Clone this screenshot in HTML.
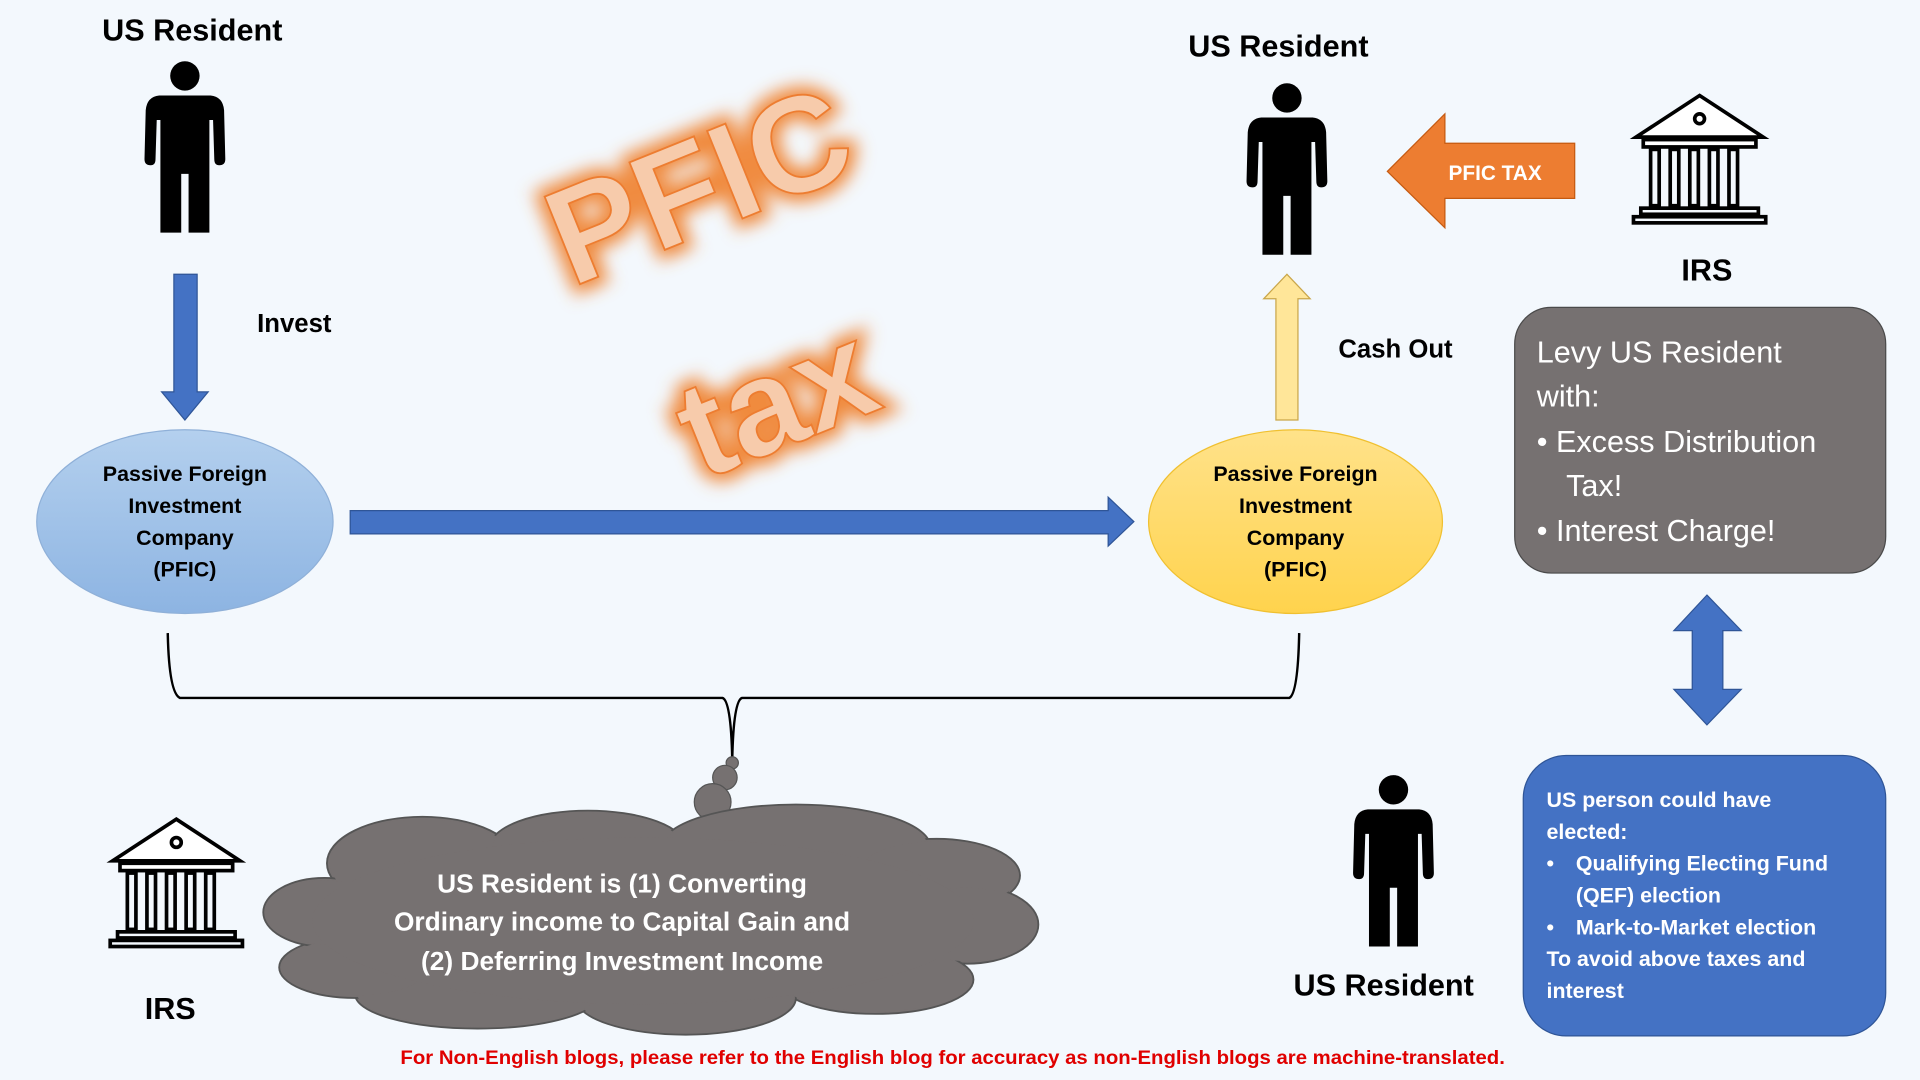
<!DOCTYPE html>
<html><head><meta charset="utf-8"><style>
html,body{margin:0;padding:0;background:#f3f8fd;}
svg{display:block;}
text{font-family:"Liberation Sans",sans-serif;}
</style></head><body>
<svg width="1920" height="1080" viewBox="0 0 1568 882" xmlns="http://www.w3.org/2000/svg">
<defs>
<linearGradient id="gb" x1="0" y1="0" x2="0" y2="1"><stop offset="0" stop-color="#b4d0ee"/><stop offset="1" stop-color="#8db4e2"/></linearGradient>
<linearGradient id="gy" x1="0" y1="0" x2="0" y2="1"><stop offset="0" stop-color="#ffe28a"/><stop offset="1" stop-color="#ffd34d"/></linearGradient>
<filter id="glow" x="-30%" y="-30%" width="160%" height="160%"><feGaussianBlur stdDeviation="7"/></filter>
<g id="person">
<circle cx="33" cy="12" r="12"/>
<path d="M12,28 H54 Q64,29 65,40 L66,80 Q66,85 61,85 Q57,85 57,80 L56,48 L53,48 L53,140 L36,140 L36,92 L30,92 L30,140 L13,140 L13,48 L10,48 L9,80 Q9,85 5,85 Q0,85 0,80 L1,40 Q2,29 12,28Z"/>
</g>
<g id="bank" fill="none" stroke="#000" stroke-width="3">
<path d="M56,2 L108,36 L4,36Z" fill="#fff"/>
<circle cx="56" cy="21" r="4"/>
<rect x="10" y="38" width="92" height="6" fill="#fff"/>
<rect x="16" y="46" width="7" height="46"/><rect x="32" y="46" width="7" height="46"/><rect x="48" y="46" width="7" height="46"/><rect x="64" y="46" width="7" height="46"/><rect x="80" y="46" width="7" height="46"/>
<rect x="8" y="94" width="96" height="5"/><rect x="2" y="101" width="108" height="5"/>
</g>
</defs>
<rect width="1568" height="882" fill="#f3f8fd"/>

<g transform="rotate(-22 570 150)">
<text x="570" y="190" font-size="112" font-weight="bold" text-anchor="middle" fill="#f4a46a" stroke="#f08a3e" stroke-width="14" filter="url(#glow)">PFIC</text>
<text x="570" y="190" font-size="112" font-weight="bold" text-anchor="middle" fill="#f7cbab" stroke="#ed7d31" stroke-width="1.5">PFIC</text>
</g>
<g transform="rotate(-22 635 330)">
<text x="635" y="365" font-size="112" font-weight="bold" text-anchor="middle" fill="#f4a46a" stroke="#f08a3e" stroke-width="14" filter="url(#glow)">tax</text>
<text x="635" y="365" font-size="112" font-weight="bold" text-anchor="middle" fill="#f7cbab" stroke="#ed7d31" stroke-width="1.5">tax</text>
</g>

<text x="157" y="33" font-size="25" font-weight="bold" text-anchor="middle">US Resident</text>
<use href="#person" x="118" y="50"/>
<path d="M142,224 H161 V320 H170 L151,343 L132,320 H142Z" fill="#4472c4" stroke="#2f5597" stroke-width="1"/>
<text x="210" y="271" font-size="21" font-weight="bold">Invest</text>
<ellipse cx="151" cy="426" rx="121" ry="75" fill="url(#gb)" stroke="#8fb0d8"/>
<g font-size="17.5" font-weight="bold" text-anchor="middle">
<text x="151" y="393">Passive Foreign</text><text x="151" y="419">Investment</text><text x="151" y="445">Company</text><text x="151" y="471">(PFIC)</text>
</g>
<path d="M286,417 H905 V406 L926,426 L905,446 V436 H286Z" fill="#4472c4" stroke="#2f5597" stroke-width="1"/>

<ellipse cx="1058" cy="426" rx="120" ry="75" fill="url(#gy)" stroke="#f0c030"/>
<g font-size="17.5" font-weight="bold" text-anchor="middle">
<text x="1058" y="393">Passive Foreign</text><text x="1058" y="419">Investment</text><text x="1058" y="445">Company</text><text x="1058" y="471">(PFIC)</text>
</g>
<path d="M1042,343 V244 H1032 L1051,224 L1070,244 H1060 V343Z" fill="#ffe699" stroke="#c9a64a" stroke-width="1"/>
<text x="1093" y="292" font-size="21" font-weight="bold">Cash Out</text>
<text x="1044" y="46" font-size="25" font-weight="bold" text-anchor="middle">US Resident</text>
<use href="#person" x="1018" y="68"/>
<path d="M1286,117 H1180 V93 L1133,140 L1180,186 V162 H1286Z" fill="#ed7d31" stroke="#c55a11" stroke-width="1"/>
<text x="1221" y="147" font-size="17" font-weight="bold" fill="#fff" text-anchor="middle">PFIC TAX</text>
<use href="#bank" x="1332" y="76"/>
<text x="1394" y="229" font-size="25" font-weight="bold" text-anchor="middle">IRS</text>

<rect x="1237" y="251" width="303" height="217" rx="30" fill="#767171" stroke="#4a4a4a"/>
<g font-size="25" fill="#fff">
<text x="1255" y="296">Levy US Resident</text>
<text x="1255" y="332">with:</text>
<text x="1255" y="369">•  Excess Distribution</text>
<text x="1279" y="405">Tax!</text>
<text x="1255" y="442">•  Interest Charge!</text>
</g>
<path d="M1394,486 L1422,515 H1407 V563 H1422 L1394,592 L1367,563 H1382 V515 H1367Z" fill="#4472c4" stroke="#2f5597"/>

<rect x="1244" y="617" width="296" height="229" rx="35" fill="#4472c4" stroke="#2f5597"/>
<g font-size="17.5" font-weight="bold" fill="#fff">
<text x="1263" y="659">US person could have</text>
<text x="1263" y="685">elected:</text>
<text x="1263" y="711">•</text><text x="1287" y="711">Qualifying Electing Fund</text>
<text x="1287" y="737">(QEF) election</text>
<text x="1263" y="763">•</text><text x="1287" y="763">Mark-to-Market election</text>
<text x="1263" y="789">To avoid above taxes and</text>
<text x="1263" y="815">interest</text>
</g>
<use href="#person" x="1105" y="633"/>
<text x="1130" y="813" font-size="25" font-weight="bold" text-anchor="middle">US Resident</text>
<use href="#bank" x="88" y="667"/>
<text x="139" y="832" font-size="25" font-weight="bold" text-anchor="middle">IRS</text>

<path d="M137,517 Q138,566 147,570 H590 Q597,572 598,620 Q599,572 606,570 H1053 Q1060,566 1061,517" fill="none" stroke="#000" stroke-width="2"/>
<g fill="#767171" stroke="#555">
<circle cx="598" cy="623" r="5"/><circle cx="592" cy="635" r="10"/><circle cx="582" cy="655" r="15"/>
</g>
<g fill="#767171" stroke="#555" stroke-width="1.5">
<ellipse cx="345" cy="705" rx="78" ry="38"/><ellipse cx="480" cy="692" rx="80" ry="30"/><ellipse cx="650" cy="692" rx="110" ry="35"/>
<ellipse cx="765" cy="715" rx="68" ry="30"/><ellipse cx="790" cy="755" rx="58" ry="32"/><ellipse cx="715" cy="800" rx="80" ry="28"/>
<ellipse cx="560" cy="815" rx="90" ry="30"/><ellipse cx="390" cy="812" rx="100" ry="28"/><ellipse cx="290" cy="790" rx="62" ry="25"/>
<ellipse cx="265" cy="745" rx="50" ry="28"/>
</g>
<g fill="#767171">
<ellipse cx="345" cy="705" rx="76" ry="36"/><ellipse cx="480" cy="692" rx="78" ry="28"/><ellipse cx="650" cy="692" rx="108" ry="33"/>
<ellipse cx="765" cy="715" rx="66" ry="28"/><ellipse cx="790" cy="755" rx="56" ry="30"/><ellipse cx="715" cy="800" rx="78" ry="26"/>
<ellipse cx="560" cy="815" rx="88" ry="28"/><ellipse cx="390" cy="812" rx="98" ry="26"/><ellipse cx="290" cy="790" rx="60" ry="23"/>
<ellipse cx="265" cy="745" rx="48" ry="26"/><ellipse cx="525" cy="752" rx="270" ry="68"/>
</g>
<g font-size="21.5" font-weight="bold" fill="#fff" text-anchor="middle">
<text x="508" y="729">US Resident is (1) Converting</text>
<text x="508" y="760">Ordinary income to Capital Gain and</text>
<text x="508" y="792">(2) Deferring Investment Income</text>
</g>
<text x="778" y="869" font-size="15.5" font-weight="bold" fill="#e00000" text-anchor="middle" textLength="902" lengthAdjust="spacingAndGlyphs">For Non-English blogs, please refer to the English blog for accuracy as non-English blogs are machine-translated.</text>
</svg>
</body></html>
